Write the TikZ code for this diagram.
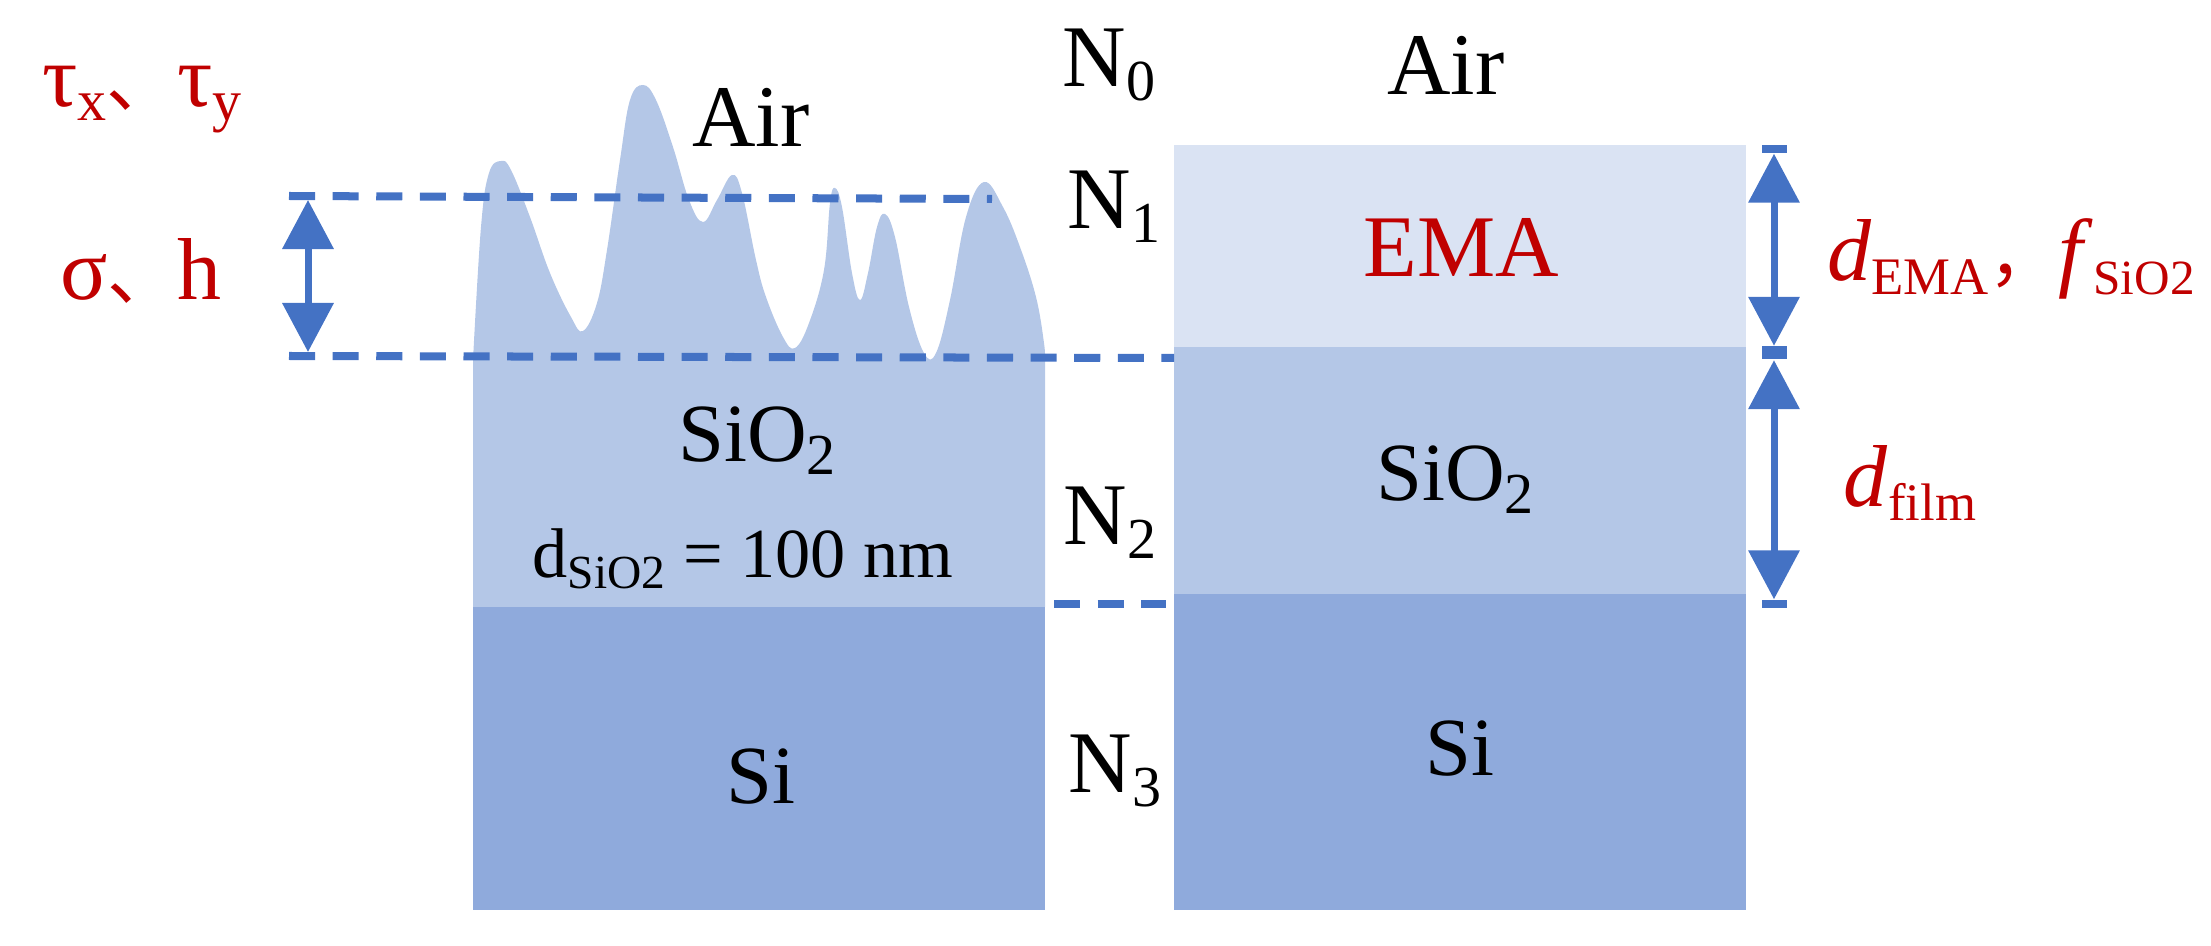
\documentclass[tikz,border=0pt]{standalone}
\usepackage{fontspec}
\setmainfont{Liberation Serif}
\newfontfamily\cjk{Noto Sans CJK SC}
\usetikzlibrary{arrows.meta}
\definecolor{airblue}{HTML}{DAE3F3}
\definecolor{oxblue}{HTML}{B4C7E7}
\definecolor{siblue}{HTML}{8FAADC}
\definecolor{lineblue}{HTML}{4472C4}
\definecolor{labred}{HTML}{C00000}
\newcommand{\lsub}[2][16.5]{\raisebox{-0.15em}{\fontsize{#1}{#1}\selectfont #2}}
\newcommand{\dun}{{\cjk\fontsize{20}{20}\selectfont 、}}
\newcommand{\dou}{{\cjk\fontsize{20}{20}\selectfont ，}}
\begin{document}
\begin{tikzpicture}[x=0.01cm,y=-0.01cm,>={Triangle[width=0.5cm,length=0.49cm]}]
\tikzset{
  every node/.style={inner sep=0pt,anchor=base,font=\fontsize{25}{30}\selectfont},
  redtxt/.style={text=labred},
  layertxt/.style={font=\fontsize{23.5}{28}\selectfont},
  smalltxt/.style={font=\fontsize{20}{24}\selectfont},
  dashline/.style={draw=lineblue,line width=0.08cm,dash pattern=on 0.26cm off 0.176cm},
  sizeline/.style={<->,draw=lineblue,fill=lineblue,line width=0.07cm},
  capbar/.style={fill=lineblue,anchor=center,minimum width=0.25cm,minimum height=#1}
}
\useasboundingbox (0,0) rectangle (2211,946);
% left stack
\fill[oxblue] (473,607) -- (473,360)
  -- plot[smooth,tension=0.65] coordinates {(473,360) (481,227) (489,173) (501,161) (511,170) (530,217) (550,273) (571,317) (583,331) (597,303) (607,250) (620,160) (630,100) (643,85) (656,100) (673,147) (689,200) (703,222) (717,200) (732,175) (742,193) (756,260) (766,297) (783,337) (795,348) (809,323) (824,270) (830,203) (835,188) (842,207) (852,273) (860,300) (868,273) (877,227) (885,214) (895,237) (909,307) (924,353) (936,353) (950,300) (966,217) (984,182) (1003,207) (1020,247) (1036,297) (1044,343) (1045,360)}
  -- (1045,607) -- cycle;
\fill[siblue] (473,607) rectangle (1045,910);
% right stack
\fill[airblue] (1174,145) rectangle (1746,347);
\fill[oxblue] (1174,347) rectangle (1746,594);
\fill[siblue] (1174,594) rectangle (1746,910);
% dashed levels
\coordinate (tl) at (289,196);
\coordinate (tr) at (992,199);
\coordinate (bl) at (289,356);
\coordinate (br) at (1174,358);
\coordinate (nl) at (1054,604);
\coordinate (nr) at (1166,604);
\draw[dashline] (tl) -- (tr);
\draw[dashline] (bl) -- (br);
\draw[dashline] (nl) -- (nr);
% arrows
\coordinate (ha) at (308,200);
\coordinate (hb) at (308,352);
\draw[sizeline] (ha) -- (hb);
\node[capbar=0.08cm] (c0) at (1774,149) {};
\node[capbar=0.13cm] (c1) at (1774,353) {};
\node[capbar=0.08cm] (c2) at (1774,604) {};
\draw[sizeline] (c0.south) -- (c1.north);
\draw[sizeline] (c1.south) -- (c2.north);
% labels
\node[redtxt] (tau) at (142,107) {τ\lsub{x}\dun τ\lsub{y}};
\node[redtxt] (sig) at (141,300) {σ\dun h};
\node (air1) at (751,147) {Air};
\node (air2) at (1446,95) {Air};
\node (n0) at (1109,87) {N\lsub{0}};
\node (n1) at (1114,229) {N\lsub{1}};
\node (n2) at (1110,545) {N\lsub{2}};
\node (n3) at (1115,793) {N\lsub{3}};
\node[layertxt] (ox1) at (757,462) {SiO\lsub{2}};
\node[smalltxt] (thick) at (743,578) {d\lsub[13.5]{SiO2} = 100 nm};
\node[layertxt] (si1) at (761,804) {Si};
\node[redtxt] (ema) at (1461,277) {EMA};
\node[layertxt] (ox2) at (1455,501) {SiO\lsub{2}};
\node[layertxt] (si2) at (1460,776) {Si};
\node[redtxt] (dema) at (2011,281) {\textit{d}\lsub[15]{EMA}\dou\textit{f}\lsub[14]{SiO2}};
\node[redtxt] (dfilm) at (1910,507) {\textit{d}\lsub[15]{film}};
\end{tikzpicture}
\end{document}
